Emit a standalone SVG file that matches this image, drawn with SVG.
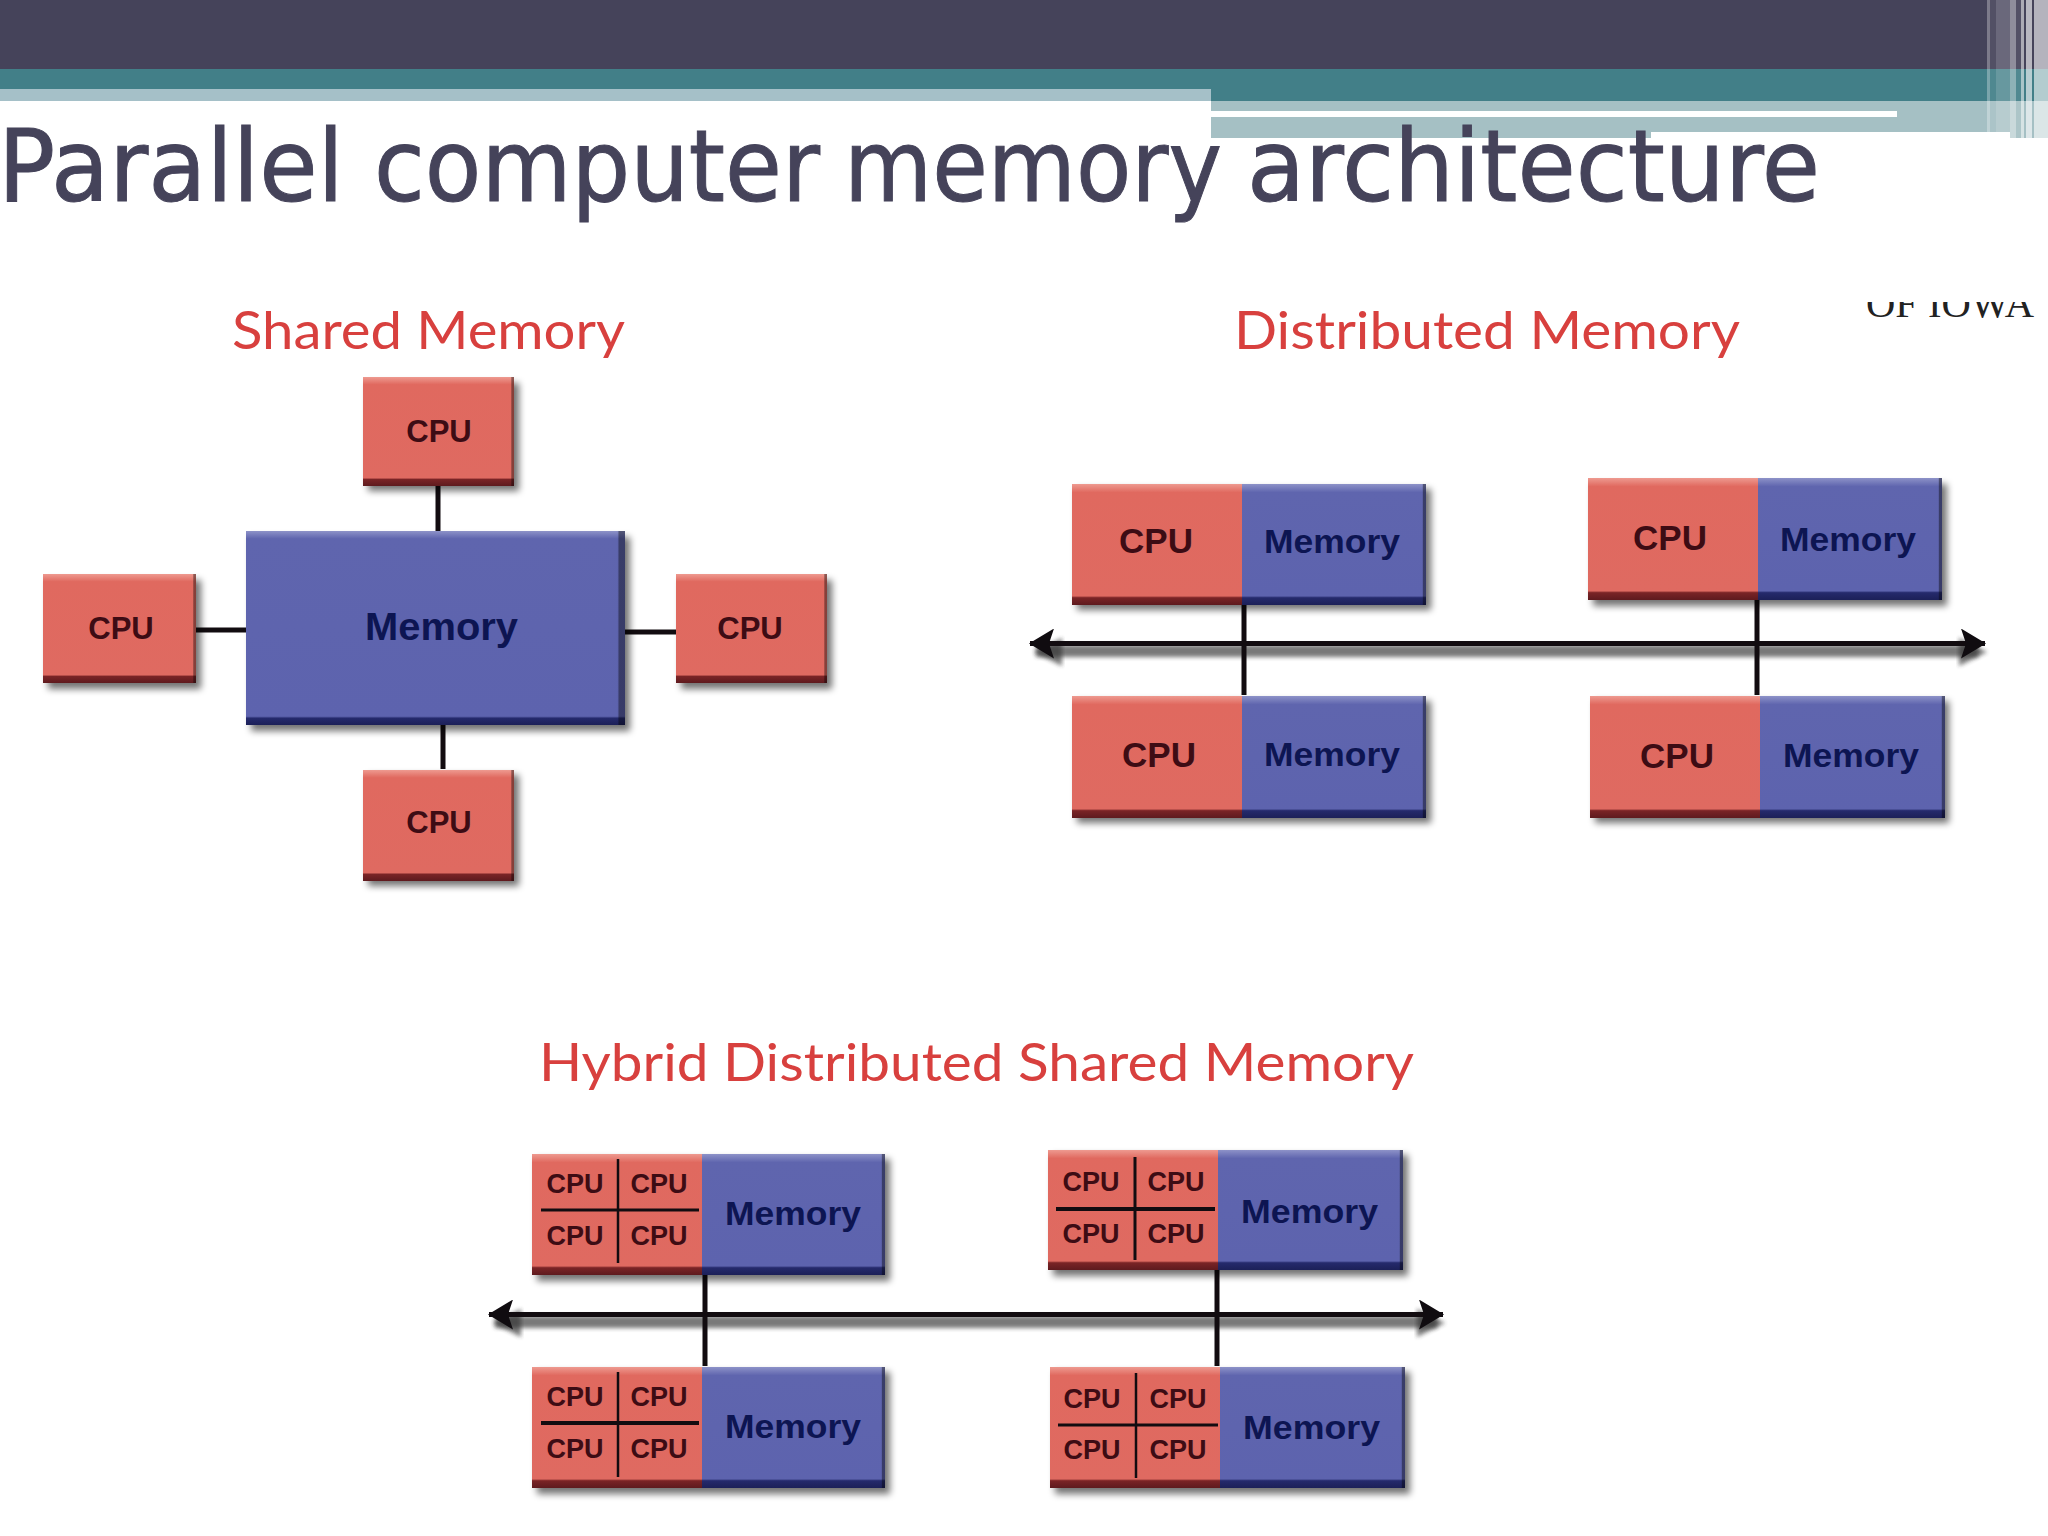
<svg xmlns="http://www.w3.org/2000/svg" width="2048" height="1536" viewBox="0 0 2048 1536">
<style>
text{font-family:"Liberation Sans",Arial,sans-serif}
.h{font-family:Lato,"Noto Sans",sans-serif;font-size:52px;fill:#d8403e}
.t{font-family:"DejaVu Sans",sans-serif;font-size:100px;fill:#45435a;stroke:#45435a;stroke-width:1}
.l{font-weight:bold;fill:#3d0c14;text-anchor:middle}
.M{font-weight:bold;fill:#0d1552}
.c{fill:url(#cg)}
.m{fill:url(#mg)}
.e{fill:url(#eg)}
.s{fill:#000;opacity:.55;filter:url(#blur)}
.g{fill:#333;opacity:.65;filter:url(#soft)}
.w{stroke:#120c10;fill:none}
</style>
<defs>
<filter id="blur" x="-20%" y="-60%" width="140%" height="220%"><feGaussianBlur stdDeviation="3.5"/></filter>
<filter id="soft" x="-10%" y="-100%" width="120%" height="300%"><feGaussianBlur stdDeviation="2"/></filter>
<linearGradient id="cg" x1="0" y1="0" x2="0" y2="1"><stop offset="0" stop-color="#ee9a90"/><stop offset=".07" stop-color="#e0695f"/><stop offset=".925" stop-color="#df6a61"/><stop offset=".94" stop-color="#7a2426"/><stop offset="1" stop-color="#5e1a1e"/></linearGradient>
<linearGradient id="mg" x1="0" y1="0" x2="0" y2="1"><stop offset="0" stop-color="#8d92c8"/><stop offset=".07" stop-color="#5f65ae"/><stop offset=".925" stop-color="#5d63ae"/><stop offset=".94" stop-color="#252a6c"/><stop offset="1" stop-color="#1c2058"/></linearGradient>
<linearGradient id="mgb" x1="0" y1="0" x2="0" y2="1"><stop offset="0" stop-color="#8d92c8"/><stop offset=".04" stop-color="#5f65ae"/><stop offset=".955" stop-color="#5d63ae"/><stop offset=".965" stop-color="#252a6c"/><stop offset="1" stop-color="#1c2058"/></linearGradient>
<linearGradient id="eg" x1="0" y1="0" x2="1" y2="0"><stop offset=".98" stop-color="#000" stop-opacity="0"/><stop offset=".985" stop-color="#000" stop-opacity=".4"/><stop offset="1" stop-color="#000" stop-opacity=".4"/></linearGradient>
<marker id="ah" viewBox="0 0 30 30" refX="29" refY="15" markerWidth="30" markerHeight="30" markerUnits="userSpaceOnUse" orient="auto-start-reverse"><path d="M30 15 L5 0 L10 15 L5 30 Z" fill="#100c10"/></marker>
<clipPath id="iowa"><rect x="1850" y="302" width="198" height="30"/></clipPath>
</defs>
<rect width="2048" height="1536" fill="#fff"/>
<g id="banner">
<rect width="2048" height="69" fill="#45435a"/>
<rect y="69" width="2048" height="32" fill="#427f88"/>
<rect y="89" width="1211" height="12" fill="#a5c0c8"/>
<rect x="1211" y="101" width="837" height="37" fill="#a5c0c4"/>
<rect x="1211" y="111" width="686" height="6" fill="#fff"/>
<rect x="1651" y="132" width="359" height="6" fill="#fff"/>
<g fill="#fff">
<rect x="1987" width="3" height="132" opacity=".3"/>
<rect x="1990" width="6" height="132" opacity=".07"/>
<rect x="1996" width="14" height="132" opacity=".2"/>
<rect x="2010" width="6" height="138" opacity=".4"/>
<rect x="2016" width="5" height="138" opacity=".08"/>
<rect x="2021" width="3" height="138" opacity=".55"/>
<rect x="2026" width="6" height="138" opacity=".62"/>
<rect x="2034" width="14" height="138" opacity=".6"/>
</g>
</g>
<text id="title" class="t" y="201"><tspan x="-2" textLength="346" lengthAdjust="spacingAndGlyphs">Parallel</tspan> <tspan x="374" textLength="446" lengthAdjust="spacingAndGlyphs">computer</tspan> <tspan x="844" textLength="378" lengthAdjust="spacingAndGlyphs">memory</tspan> <tspan x="1247" textLength="573" lengthAdjust="spacingAndGlyphs">architecture</tspan></text>
<text class="h" x="232" y="349" textLength="393" lengthAdjust="spacingAndGlyphs">Shared Memory</text>
<text class="h" x="1234" y="349" textLength="506" lengthAdjust="spacingAndGlyphs">Distributed Memory</text>
<text class="h" x="539" y="1081" textLength="875" lengthAdjust="spacingAndGlyphs">Hybrid Distributed Shared Memory</text>
<text clip-path="url(#iowa)" x="1866" y="317" font-size="40" fill="#222" textLength="168" lengthAdjust="spacingAndGlyphs" style="font-family:'Liberation Serif',serif">OF IOWA</text>

<g id="connectors">
<path d="M438 485V531M443 725V769M196 630H246M625 632H677" class="w" stroke-width="5"/>
<rect class="g" x="1036" y="645" width="942" height="12"/>
<path class="g" d="M1034 652L1062 638V666Z"/>
<path class="g" d="M1987 652L1959 638V666Z"/>
<path d="M1030 643.500H1985" class="w" stroke-width="5" marker-start="url(#ah)" marker-end="url(#ah)"/>
<path d="M1244 604V695M1757 600V695" class="w" stroke-width="5"/>
<rect class="g" x="495" y="1316" width="942" height="12"/>
<path class="g" d="M493 1323L521 1309V1337Z"/>
<path class="g" d="M1445 1323L1417 1309V1337Z"/>
<path d="M489 1314.500H1443" class="w" stroke-width="5" marker-start="url(#ah)" marker-end="url(#ah)"/>
<path d="M705 1274V1366M1217 1269V1366" class="w" stroke-width="5"/>
</g>

<g id="shared-cpu-top"><rect class="s" x="368" y="383" width="151" height="108"/><rect class="c" x="363" y="377" width="151" height="109"/><rect class="e" x="363" y="377" width="151" height="109"/><text class="l" x="439" y="442" font-size="31">CPU</text></g>
<g id="shared-memory"><rect class="s" x="251" y="537" width="379" height="194"/><rect x="246" y="531" width="379" height="194" fill="url(#mgb)"/><rect class="e" x="246" y="531" width="379" height="194"/><text class="M" x="365" y="640" font-size="38" textLength="153" lengthAdjust="spacingAndGlyphs">Memory</text></g>
<g id="shared-cpu-left"><rect class="s" x="48" y="580" width="153" height="109"/><rect class="c" x="43" y="574" width="153" height="109"/><rect class="e" x="43" y="574" width="153" height="109"/><text class="l" x="121" y="639" font-size="31">CPU</text></g>
<g id="shared-cpu-right"><rect class="s" x="681" y="580" width="151" height="109"/><rect class="c" x="676" y="574" width="151" height="109"/><rect class="e" x="676" y="574" width="151" height="109"/><text class="l" x="750" y="639" font-size="31">CPU</text></g>
<g id="shared-cpu-bottom"><rect class="s" x="368" y="775" width="151" height="111"/><rect class="c" x="363" y="770" width="151" height="111"/><rect class="e" x="363" y="770" width="151" height="111"/><text class="l" x="439" y="833" font-size="31">CPU</text></g>

<g id="dist-1"><rect class="s" x="1077" y="489" width="354" height="121"/><rect class="c" x="1072" y="484" width="170" height="121"/><rect class="m" x="1242" y="484" width="184" height="121"/><rect class="e" x="1242" y="484" width="184" height="121"/><text class="l" x="1156" y="553" font-size="35">CPU</text><text class="M" x="1264" y="553" font-size="34" textLength="136" lengthAdjust="spacingAndGlyphs">Memory</text></g>
<g id="dist-2"><rect class="s" x="1593" y="484" width="354" height="122"/><rect class="c" x="1588" y="478" width="170" height="122"/><rect class="m" x="1758" y="478" width="184" height="122"/><rect class="e" x="1758" y="478" width="184" height="122"/><text class="l" x="1670" y="550" font-size="35">CPU</text><text class="M" x="1780" y="551" font-size="34" textLength="136" lengthAdjust="spacingAndGlyphs">Memory</text></g>
<g id="dist-3"><rect class="s" x="1077" y="701" width="354" height="122"/><rect class="c" x="1072" y="696" width="170" height="122"/><rect class="m" x="1242" y="696" width="184" height="122"/><rect class="e" x="1242" y="696" width="184" height="122"/><text class="l" x="1159" y="767" font-size="35">CPU</text><text class="M" x="1264" y="766" font-size="34" textLength="136" lengthAdjust="spacingAndGlyphs">Memory</text></g>
<g id="dist-4"><rect class="s" x="1595" y="701" width="354" height="122"/><rect class="c" x="1590" y="696" width="170" height="122"/><rect class="m" x="1760" y="696" width="185" height="122"/><rect class="e" x="1760" y="696" width="185" height="122"/><text class="l" x="1677" y="768" font-size="35">CPU</text><text class="M" x="1783" y="767" font-size="34" textLength="136" lengthAdjust="spacingAndGlyphs">Memory</text></g>

<g id="hybrid-1"><rect class="s" x="537" y="1159" width="353" height="122"/><rect class="c" x="532" y="1154" width="170" height="121"/><rect class="m" x="702" y="1154" width="183" height="121"/><rect class="e" x="702" y="1154" width="183" height="121"/><path d="M618 1159V1263" class="w" stroke-width="2.500"/><path d="M541 1210H699" class="w" stroke-width="3"/><text class="l" x="575" y="1193" font-size="27">CPU</text><text class="l" x="659" y="1193" font-size="27">CPU</text><text class="l" x="575" y="1245" font-size="27">CPU</text><text class="l" x="659" y="1245" font-size="27">CPU</text><text class="M" x="725" y="1225" font-size="34" textLength="136" lengthAdjust="spacingAndGlyphs">Memory</text></g>
<g id="hybrid-2"><rect class="s" x="1053" y="1155" width="355" height="121"/><rect class="c" x="1048" y="1150" width="170" height="120"/><rect class="m" x="1218" y="1150" width="185" height="120"/><rect class="e" x="1218" y="1150" width="185" height="120"/><path d="M1135 1157V1260" class="w" stroke-width="3"/><path d="M1056 1209H1215" class="w" stroke-width="4"/><text class="l" x="1091" y="1191" font-size="27">CPU</text><text class="l" x="1176" y="1191" font-size="27">CPU</text><text class="l" x="1091" y="1243" font-size="27">CPU</text><text class="l" x="1176" y="1243" font-size="27">CPU</text><text class="M" x="1241" y="1223" font-size="34" textLength="137" lengthAdjust="spacingAndGlyphs">Memory</text></g>
<g id="hybrid-3"><rect class="s" x="537" y="1372" width="353" height="122"/><rect class="c" x="532" y="1367" width="170" height="121"/><rect class="m" x="702" y="1367" width="183" height="121"/><rect class="e" x="702" y="1367" width="183" height="121"/><path d="M618 1372V1477" class="w" stroke-width="2.500"/><path d="M541 1423H699" class="w" stroke-width="4"/><text class="l" x="575" y="1406" font-size="27">CPU</text><text class="l" x="659" y="1406" font-size="27">CPU</text><text class="l" x="575" y="1458" font-size="27">CPU</text><text class="l" x="659" y="1458" font-size="27">CPU</text><text class="M" x="725" y="1438" font-size="34" textLength="136" lengthAdjust="spacingAndGlyphs">Memory</text></g>
<g id="hybrid-4"><rect class="s" x="1055" y="1372" width="355" height="122"/><rect class="c" x="1050" y="1367" width="170" height="121"/><rect class="m" x="1220" y="1367" width="185" height="121"/><rect class="e" x="1220" y="1367" width="185" height="121"/><path d="M1136 1373V1478" class="w" stroke-width="2.500"/><path d="M1058 1425H1218" class="w" stroke-width="3"/><text class="l" x="1092" y="1408" font-size="27">CPU</text><text class="l" x="1178" y="1408" font-size="27">CPU</text><text class="l" x="1092" y="1459" font-size="27">CPU</text><text class="l" x="1178" y="1459" font-size="27">CPU</text><text class="M" x="1243" y="1439" font-size="34" textLength="137" lengthAdjust="spacingAndGlyphs">Memory</text></g>
</svg>
